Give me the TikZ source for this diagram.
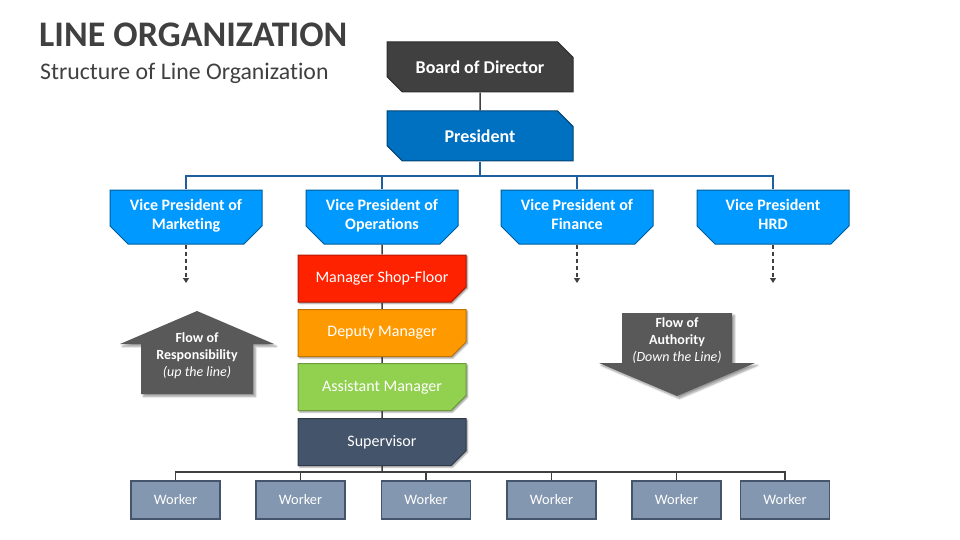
\documentclass[tikz,border=0pt]{standalone}
\usepackage{fontspec}
\setmainfont{Carlito}[Ligatures=NoCommon]
\usepackage{xcolor}
\usepackage{tikz}
\usetikzlibrary{arrows.meta, calc, positioning, shapes.misc, shadows.blur}
\definecolor{boardgray}{HTML}{404040}
\definecolor{presblue}{HTML}{0070C0}
\definecolor{vpblue}{HTML}{0099FF}
\definecolor{lineblue}{HTML}{1F5F9F}
\definecolor{mgrred}{HTML}{FF2200}
\definecolor{mgrorange}{HTML}{FF9900}
\definecolor{mgrgreen}{HTML}{92D050}
\definecolor{supslate}{HTML}{44546A}
\definecolor{workblue}{HTML}{8497B0}
\definecolor{flowgray}{HTML}{595959}

\begin{document}
\begin{tikzpicture}[x=1pt, y=-1pt,
  topbox/.style={chamfered rectangle, chamfered rectangle corners={north east, south west},
    chamfered rectangle xsep=9pt, chamfered rectangle ysep=9pt, inner sep=0pt,
    minimum width=186pt, minimum height=50pt, line width=1pt, text=white,
    font=\bfseries\fontsize{18}{20}\selectfont},
  vpbox/.style={chamfered rectangle, chamfered rectangle corners={south west, south east},
    chamfered rectangle xsep=9pt, chamfered rectangle ysep=9pt, inner sep=0pt,
    minimum width=152pt, minimum height=54pt, line width=1pt, fill=vpblue, draw=vpblue!60!black,
    text=white, align=center, execute at end node=\strut, font=\bfseries\fontsize{16}{19}\selectfont},
  fold/.style={path picture={\fill[black, opacity=.45]
    ([xshift=-8pt]path picture bounding box.south east) --
    ([yshift=8pt]path picture bounding box.south east) --
    ([shift={(-8pt,8pt)}]path picture bounding box.south east) -- cycle;}},
  mgrbox/.style={chamfered rectangle, chamfered rectangle corners=south east,
    chamfered rectangle xsep=8pt, chamfered rectangle ysep=8pt, inner sep=0pt,
    minimum width=168pt, minimum height=47pt, line width=1pt, fold, text=white,
    blur shadow={shadow xshift=1.5pt, shadow yshift=-1.5pt, shadow blur radius=1.5pt, shadow opacity=40},
    font=\fontsize{16}{18}\selectfont},
  wrkbox/.style={rectangle, minimum width=89pt, minimum height=38pt, inner sep=0pt,
    fill=workblue, draw=supslate, line width=1.2pt, text=white, font=\fontsize{14.4}{16}\selectfont},
  flowtxt/.style={text=white, align=center, inner sep=0pt, font=\bfseries\fontsize{14}{17}\selectfont},
  link/.style={line width=1.5pt},
  drop/.style={boardgray, line width=1.5pt, dash pattern=on 4pt off 3pt, -{Triangle[length=5pt,width=6pt]}}]
  \useasboundingbox (0,0) rectangle (960,540);

  \node[anchor=base west, inner sep=0pt, text=boardgray, font=\bfseries\fontsize{36}{40}\selectfont] (title) at (39,47) {LINE ORGANIZATION};
  \node[anchor=base west, inner sep=0pt, text=boardgray, font=\fontsize{23.8}{26}\selectfont] (subtitle) at (40,80) {Structure of Line Organization};

  \node[topbox, fill=boardgray, draw=boardgray!70!black] (board) at (480,67) {Board of Director};
  \node[topbox, fill=presblue, draw=presblue!60!black] (pres) at (480,136) {President};

  \node[vpbox] (vpm) at (186,217) {Vice President of\\Marketing};
  \node[vpbox] (vpo) at (382,217) {Vice President of\\Operations};
  \node[vpbox] (vpf) at (577,217) {Vice President of\\Finance};
  \node[vpbox] (vph) at (773,217) {Vice President\\HRD};

  \node[mgrbox, fill=mgrred, draw=mgrred!70!black] (m1) at (382,278.5) {Manager Shop-Floor};
  \node[mgrbox, fill=mgrorange, draw=mgrorange!75!black] (m2) at (382,333) {Deputy Manager};
  \node[mgrbox, fill=mgrgreen, draw=mgrgreen!75!black] (m3) at (382,387) {Assistant Manager};
  \node[mgrbox, fill=supslate, draw=supslate!70!black] (m4) at (382,442) {Supervisor};

  \node[wrkbox] (w1) at (175.5,500) {Worker};
  \node[wrkbox] (w2) at (300.5,500) {Worker};
  \node[wrkbox] (w3) at (426,500) {Worker};
  \node[wrkbox] (w4) at (551.5,500) {Worker};
  \node[wrkbox] (w5) at (676.5,500) {Worker};
  \node[wrkbox] (w6) at (785,500) {Worker};

  \coordinate (topbus) at (480,176);
  \coordinate (lowbus) at (382,472);
  \draw[link, boardgray] (board) -- (pres);
  \draw[link, lineblue] (pres) -- (topbus);
  \foreach \v in {vpm,vpo,vpf,vph}
    \draw[link, lineblue] (topbus) -| (\v);
  \draw[link, boardgray] (vpo) -- (m1) (m1) -- (m2) (m2) -- (m3) (m3) -- (m4) (m4) -- (lowbus);
  \foreach \w in {w1,w2,w3,w4,w5,w6}
    \draw[link, boardgray] (lowbus) -| (\w);

  \coordinate (dm) at (186,283);
  \coordinate (df) at (577,283);
  \coordinate (dh) at (773,283);
  \draw[drop] (vpm) -- (dm);
  \draw[drop] (vpf) -- (df);
  \draw[drop] (vph) -- (dh);

  \fill[flowgray, blur shadow={shadow blur steps=6}] (141,394) -- (141,344) -- (120,344) -- (197,311)
    -- (274,344) -- (253,344) -- (253,394) -- cycle;
  \node[flowtxt] (resp) at (197,356) {Flow of\\Responsibility\\{\mdseries\itshape (up the line)}};
  \fill[flowgray, blur shadow={shadow blur steps=6}] (622,313) -- (732,313) -- (732,363) -- (755,363)
    -- (677,396) -- (599,363) -- (622,363) -- cycle;
  \node[flowtxt] (auth) at (677,341) {Flow of\\Authority\\{\mdseries\itshape (Down the Line)}};
\end{tikzpicture}
\end{document}
